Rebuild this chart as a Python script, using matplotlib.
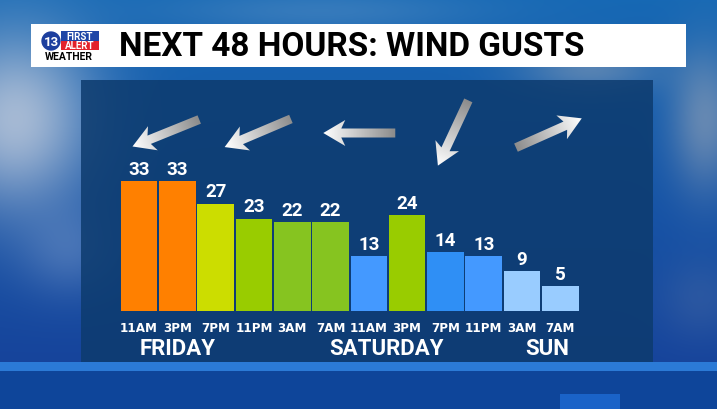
import numpy as np
import matplotlib
matplotlib.use('Agg')
import matplotlib.pyplot as plt
from matplotlib.patches import Rectangle, Circle, Polygon
from matplotlib.colors import LinearSegmentedColormap, to_rgb

# --- DONNÉES ---
heures = ["11AM", "3PM", "7PM", "11PM", "3AM", "7AM",
          "11AM", "3PM", "7PM", "11PM", "3AM", "7AM"]
rafales = [33, 33, 27, 23, 22, 22, 13, 24, 14, 13, 9, 5]
jours = ["FRIDAY", "SATURDAY", "SUN"]
jours_pos = [1.0, 6.45, 10.65]
# direction du vent (degrés, sens de la flèche) et créneau où la flèche est posée
vent_dir = [202, 203, 180, 245, 24]
vent_pos = [0.7, 3.1, 5.75, 8.2, 10.7]

TITRE = "NEXT 48 HOURS: WIND GUSTS"
W, H = 717, 410
BASE = -1.5


def couleur_rafale(v):
    """Échelle de couleurs de la télé selon la force des rafales."""
    if v >= 30:
        return "#ff8000"
    if v >= 25:
        return "#ccdd00"
    if v >= 23:
        return "#99cc00"
    if v >= 20:
        return "#86c420"
    if v >= 14:
        return "#2f8ff5"
    if v >= 10:
        return "#4499ff"
    return "#99ccff"


def fond():
    """Fond bleu nuageux approximatif."""
    yy, xx = np.mgrid[0:H, 0:W].astype(float)
    haut = np.array(to_rgb("#1668b4"))
    bas = np.array(to_rgb("#163f98"))
    t = (yy / H)[..., None]
    img = haut * (1 - t) + bas * t

    def nuage(cx, cy, sx, sy, amp, col):
        g = np.exp(-(((xx - cx) / sx) ** 2 + ((yy - cy) / sy) ** 2))[..., None] * amp
        return img * (1 - g) + np.array(to_rgb(col)) * g

    img = nuage(15, 120, 80, 90, 0.8, "#c8d0de")
    img = nuage(70, 250, 50, 45, 0.3, "#a0b6da")
    img = nuage(320, 12, 160, 22, 0.3, "#7fa7cf")
    img = nuage(590, 70, 70, 25, 0.45, "#a3abb8")
    img = nuage(705, 120, 35, 70, 0.55, "#a5acb8")
    img = nuage(700, 300, 40, 40, 0.2, "#7a8aa8")
    # bande basse
    img[363:372, :] = to_rgb("#2b7ad6")
    img[372:, :] = to_rgb("#0e459a")
    img[395:, 560:620] = to_rgb("#1a63c8")
    return np.clip(img, 0, 1)


fig = plt.figure(figsize=(W / 100, H / 100), dpi=100)

# --- FOND ---
ax_bg = fig.add_axes([0, 0, 1, 1])
ax_bg.imshow(fond(), extent=(0, W, H, 0), aspect="auto", zorder=0)
ax_bg.set_xlim(0, W)
ax_bg.set_ylim(H, 0)
ax_bg.axis("off")

ax_bg.add_patch(Rectangle((81, 81), 572, 282, facecolor="#0d3b6e", alpha=0.85, zorder=1))

# bandeau titre
ax_bg.add_patch(Rectangle((31, 25), 655, 43, facecolor="white", zorder=2))
ax_bg.text(119, 47, TITRE, fontsize=24, fontweight="bold", family="Roboto",
           color="black", va="center", ha="left", zorder=3)

# logo
ax_bg.add_patch(Circle((51, 42), 10.5, facecolor="#1d3f9e", edgecolor="white", lw=1.2, zorder=3))
ax_bg.text(51, 42.5, "13", fontsize=9.5, fontweight="bold", color="white",
           ha="center", va="center", family="Roboto", zorder=4)
ax_bg.add_patch(Rectangle((61, 32), 38, 9.5, facecolor="#1f46a6", zorder=3))
ax_bg.add_patch(Rectangle((61, 41.5), 38, 9, facecolor="#e3222b", zorder=3))
ax_bg.text(80, 36.8, "FIRST", fontsize=7, fontweight="bold", color="white",
           ha="center", va="center", family="Roboto", zorder=4)
ax_bg.text(80, 46, "ALERT", fontsize=7, fontweight="bold", color="white",
           ha="center", va="center", family="Roboto", zorder=4)
ax_bg.text(69, 56.5, "WEATHER", fontsize=7.5, fontweight="bold", color="black",
           ha="center", va="center", family="Roboto", zorder=4)

# --- BARRES ---
px_unite, x0 = 38.3, 139.05
ax = fig.add_axes([(x0 - 0.6 * px_unite) / W, (H - 311.6) / H,
                   12.2 * px_unite / W, (311.6 - 171) / H])
ax.patch.set_alpha(0)
x = np.arange(len(rafales))
ax.bar(x, np.array(rafales) - BASE, bottom=BASE, width=0.958,
       color=[couleur_rafale(v) for v in rafales], edgecolor="none")
for xi, v in zip(x, rafales):
    ax.annotate(str(v), (xi, v), xytext=(0, 2.5), textcoords="offset points",
                ha="center", va="bottom", color="white", fontsize=13.5,
                fontweight="bold", family="Roboto")
ax.set_xlim(-0.6, 11.6)
ax.set_ylim(BASE, 36)
ax.set_xticks(x)
ax.set_xticklabels(heures, color="white", fontsize=9.5, fontweight="bold",
                   family="DejaVu Sans", fontstretch="condensed")
ax.tick_params(axis="x", length=0, pad=7.5)
ax.set_yticks([])
for s in ax.spines.values():
    s.set_visible(False)

for nom, pos in zip(jours, jours_pos):
    ax.annotate(nom, (pos, 0), xycoords=("data", "axes fraction"),
                xytext=(0, -37), textcoords="offset pixels", ha="center",
                va="center", color="white", fontsize=16, fontweight="bold",
                family="Roboto")

# --- FLÈCHES DE VENT (dégradé gris -> blanc) ---
cmap_fleche = LinearSegmentedColormap.from_list("fleche", ["#8c8c8c", "#ffffff"])
L, demi_tige, demi_tete, long_tete = 72, 4.5, 13, 22
for angle, pos in zip(vent_dir, vent_pos):
    cx = ax.transData.transform((pos, 0))[0]
    cy = 134
    a = np.radians(angle)
    u = np.array([np.cos(a), -np.sin(a)])
    n = np.array([-u[1], u[0]])
    loc = [(-L / 2, demi_tige), (L / 2 - long_tete + 4, demi_tige),
           (L / 2 - long_tete, demi_tete), (L / 2, 0),
           (L / 2 - long_tete, -demi_tete), (L / 2 - long_tete + 4, -demi_tige),
           (-L / 2, -demi_tige)]
    pts = np.array([[cx, cy] + p * u + q * n for p, q in loc])
    poly = Polygon(pts, closed=True, facecolor="none", edgecolor="none", zorder=3)
    ax_bg.add_patch(poly)
    xa, xb = pts[:, 0].min() - 1, pts[:, 0].max() + 1
    ya, yb = pts[:, 1].min() - 1, pts[:, 1].max() + 1
    gy, gx = np.mgrid[ya:yb:60j, xa:xb:60j]
    tt = ((gx - cx) * u[0] + (gy - cy) * u[1]) / L + 0.5
    im = ax_bg.imshow(np.clip(tt, 0, 1), cmap=cmap_fleche, vmin=0, vmax=1,
                      extent=(xa, xb, yb, ya), origin="upper", aspect="auto",
                      zorder=3, interpolation="bilinear")
    im.set_clip_path(poly)

ax_bg.set_xlim(0, W)
ax_bg.set_ylim(H, 0)

fig.savefig("out.png", dpi=100)
